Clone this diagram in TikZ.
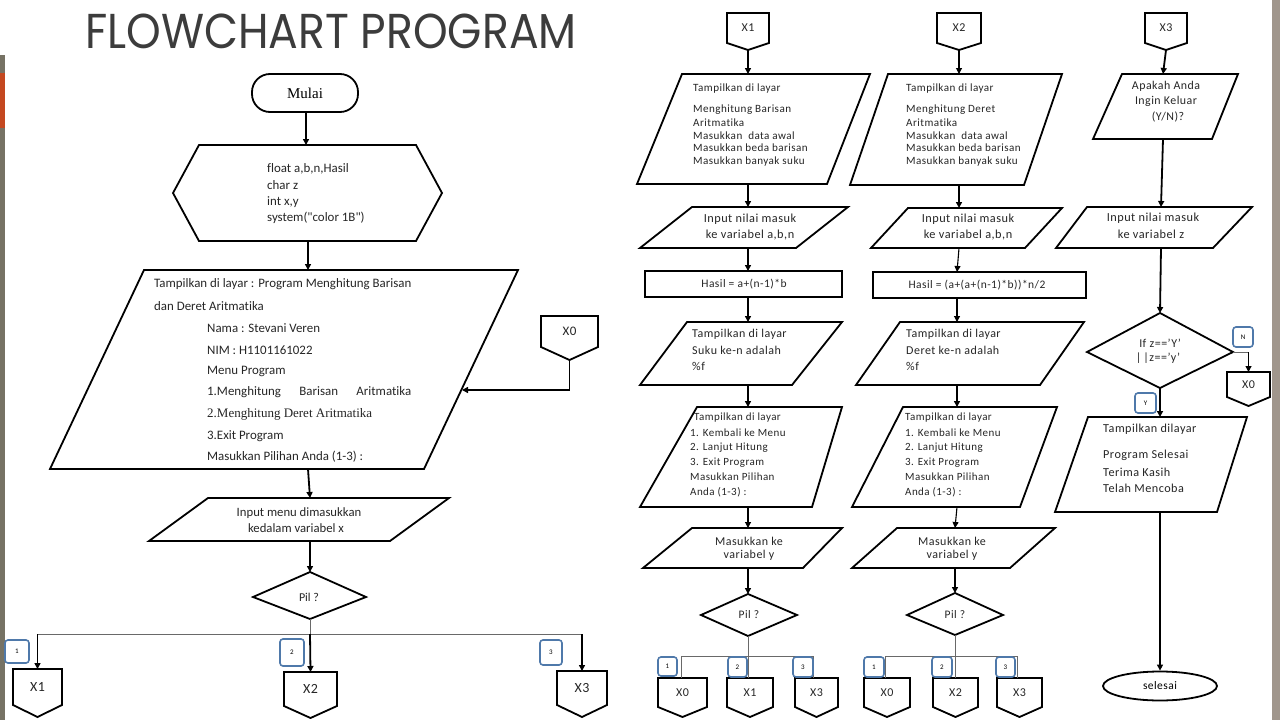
\documentclass[tikz,border=0pt]{standalone}
\usepackage{fontspec}
\setmainfont{Carlito}[Ligatures={TeXOff,CommonOff}]
\newfontfamily\tnr{Liberation Serif}
\newfontfamily\ttl{Poppins}
\newfontfamily\cbw{Carlito}[LetterSpace=4,Ligatures={TeXOff,CommonOff}]
\usetikzlibrary{arrows.meta,shapes.geometric}
\newcommand\fsz[1]{\fontsize{#1}{#1}\selectfont}
\definecolor{lblue}{RGB}{79,121,170}
\definecolor{brgray}{RGB}{105,105,105}
\definecolor{ttlgray}{RGB}{60,60,60}
\definecolor{stripgray}{RGB}{118,114,100}
\definecolor{stripor}{RGB}{196,72,32}
\definecolor{noisegray}{RGB}{160,150,140}
\tikzset{
 shp/.style={draw=black,line width=1.8pt,line join=miter},
 arr/.style={draw=black,line width=1.8pt,-{Triangle[length=6pt,width=6pt]}},
 tarr/.style={draw=black,line width=1.1pt,-{Triangle[length=6pt,width=6pt]}},
 brl/.style={draw=brgray,line width=0.9pt},
 lbl/.style={draw=lblue,line width=1.6pt,rounded corners=3pt,fill=white,inner sep=0pt,font=\fsz{7}},
 txt/.style={inner sep=0pt,text=black!85},
 ltx/.style={txt,anchor=west},
}
\newcommand\offpg[8]{%
 \draw[shp] (#2,#4) -- (#3,#4) -- (#3,#5) -- ({(#2+#3)/2},#6) -- (#2,#5) -- cycle;
 \node[txt,font=\cbw\fsz{#8}] (#1) at ({(#2+#3)/2},{(#4+#5)/2}) {#7};
 \coordinate (#1-t) at ({(#2+#3)/2},#4);
 \coordinate (#1-b) at ({(#2+#3)/2},#6);
}
\newcommand\para[8]{%
 \draw[shp] (#3,#7) -- (#4,#7) -- (#6,#8) -- (#5,#8) -- cycle;
 \coordinate (#1-t) at (#2,#7);
 \coordinate (#1-b) at (#2,#8);
}
\newcommand\dia[7]{%
 \draw[shp] (#2,#3) -- (#7,#4) -- (#2,#5) -- (#6,#4) -- cycle;
 \coordinate (#1-t) at (#2,#3);
 \coordinate (#1-b) at (#2,#5);
 \coordinate (#1-r) at (#7,#4);
}
\newcommand\tln[4]{\node[ltx] (#1) at (#2,#3) {#4};}
\newcommand\tlc[4]{\node[txt] (#1) at (#2,#3) {#4};}
\begin{document}
\begin{tikzpicture}[x=1pt,y=-1pt]
\useasboundingbox (0,0) rectangle (1280,720);
\fill[white] (0,0) rectangle (1280,720);
% frame strips
\fill[stripgray] (0,55) rectangle (5,720);
\fill[stripor] (0,73) rectangle (5,128);
\fill[noisegray] (1272,0) rectangle (1280,720);
% title
\node[anchor=base west,inner sep=0pt,font=\ttl\fsz{49},text=ttlgray] (title) at (85,48) {\scalebox{0.9}[1]{FLOWCHART PROGRAM}};

%================ LEFT COLUMN ================
\node[shp,rounded corners=18pt,minimum width=106pt,minimum height=38pt,inner sep=0pt,font=\tnr\fsz{15}] (mulai) at (305,93) {Mulai};
\draw[shp] (199,145) -- (416,145) -- (442,193) -- (416,241) -- (199,241) -- (173,193) -- cycle;
\coordinate (hex-t) at (306,145);
\coordinate (hex-b) at (308,241);
\begin{scope}[font=\fsz{12.9}]
\tln{h1}{267}{169}{float a,b,n,Hasil}
\tln{h2}{267}{185}{char z}
\tln{h3}{267}{202}{int x,y}
\tln{h4}{267}{218}{system("color 1B")}
\end{scope}
\draw[arr] (mulai.south -| hex-t) -- (hex-t);

\para{main}{308}{144}{518}{50}{424}{270}{469}
\coordinate (main-r) at (462,390);
\draw[arr] (hex-b) -- (main-t);
\begin{scope}[font=\fsz{12.9}]
\tln{m1}{154}{284}{Tampilkan di layar : Program Menghitung Barisan}
\tln{m2}{154}{306}{dan Deret Aritmatika}
\tln{m3}{207}{328}{Nama : Stevani Veren}
\tln{m4}{207}{350}{NIM : H1101161022}
\tln{m5}{207}{371}{Menu Program}
\tln{m6}{207}{392}{\makebox[204pt][s]{1.Menghitung Barisan Aritmatika}}
\node[ltx,font=\tnr\fsz{13}] (m7) at (207,414) {2.Menghitung Deret Aritmatika};
\tln{m8}{207}{436}{3.Exit Program}
\tln{m9}{207}{457}{Masukkan Pilihan Anda (1-3) :}
\end{scope}

\offpg{xz}{541}{598}{316}{347}{360}{X0}{13}
\draw[arr] (xz-b) |- (main-r);

\para{inp}{310}{208}{449}{149}{390}{498}{541}
\draw[arr] (main-b) -- (inp-t);
\begin{scope}[font=\fsz{12.7}]
\tlc{i1}{299}{513}{Input menu dimasukkan}
\tlc{i2}{296}{528}{kedalam variabel x}
\end{scope}

\dia{pil}{310}{572}{597}{619}{253}{366}
\draw[arr] (inp-b) -- (pil-t);
\node[txt,font=\fsz{12}] (pilt) at (309,597) {Pil ?};

\coordinate (br0) at (310,634);
\coordinate (brL) at (37.5,634);
\coordinate (brR) at (582,634);
\draw[brl] (pil-b) -- (br0);
\draw[brl] (brL) -- (brR);

\offpg{xa}{13}{62}{669}{705}{717}{X1}{14}
\offpg{xb}{284}{337}{672}{706}{718}{X2}{14}
\offpg{xc}{557}{607}{671}{705}{717}{X3}{14}
\draw[arr] (brL) -- (xa-t);
\draw[arr] (br0) -- (xb-t);
\draw[arr] (brR) -- (xc-t);
\node[lbl,minimum width=24pt,minimum height=23pt] (l1) at (17,651.5) {1};
\node[lbl,minimum width=24pt,minimum height=27pt] (l2) at (292,652.5) {2};
\node[lbl,minimum width=22pt,minimum height=25pt] (l3) at (551,652.5) {3};

%================ COLUMN 1 ================
\offpg{cax}{727}{769}{13}{43}{50}{X1}{12}
\para{caa}{748}{682}{870}{637}{827}{74}{184}
\draw[arr] (cax-b) -- (caa-t);
\begin{scope}[font=\cbw\fsz{11.1}]
\tln{ca1}{693}{89}{Tampilkan di layar}
\tln{ca2}{693}{110}{Menghitung Barisan}
\tln{ca3}{693}{123}{Aritmatika}
\tln{ca4}{693}{136}{Masukkan\ \ data awal}
\tln{ca5}{693}{148}{Masukkan beda barisan}
\tln{ca6}{693}{162}{Masukkan banyak suku}
\end{scope}
\para{cab}{748}{692}{848}{640}{796}{207}{248}
\draw[arr] (caa-b) -- (cab-t);
\begin{scope}[font=\cbw\fsz{12.3}]
\tlc{cb1}{750}{219}{Input nilai masuk}
\tlc{cb2}{750}{235}{ke variabel a,b,n}
\end{scope}
\draw[shp] (645,271) rectangle (842,297);
\coordinate (cac-t) at (748,271);
\coordinate (cac-b) at (748,297);
\node[txt,font=\cbw\fsz{11.5}] (cc1) at (744,284) {Hasil = a+(n-1)*b};
\draw[arr] (cab-b) -- (cac-t);
\para{cad}{748}{687}{842}{640}{792}{322}{385}
\draw[arr] (cac-b) -- (cad-t);
\begin{scope}[font=\cbw\fsz{12}]
\tln{cd1}{692}{334}{Tampilkan di layar}
\tln{cd2}{692}{350}{Suku ke-n adalah}
\tln{cd3}{692}{366}{\%f}
\end{scope}
\para{cae}{748}{697}{842}{640}{812}{407}{507}
\draw[arr] (cad-b) -- (cae-t);
\begin{scope}[font=\cbw\fsz{11}]
\tln{ce1}{694}{418}{Tampilkan di layar}
\tln{ce2}{690}{433}{1. Kembali ke Menu}
\tln{ce3}{690}{448}{2. Lanjut Hitung}
\tln{ce4}{690}{463}{3. Exit Program}
\tln{ce5}{690}{477}{Masukkan Pilihan}
\tln{ce6}{690}{492}{Anda (1-3) :}
\end{scope}
\para{caf}{748}{692}{842}{643}{803}{528}{568}
\draw[tarr] (cae-b) -- (caf-t);
\begin{scope}[font=\cbw\fsz{12}]
\tlc{cf1}{749}{541}{Masukkan ke}
\tlc{cf2}{749}{555}{variabel y}
\end{scope}
\dia{cag}{748}{594}{615}{636}{701}{797}
\draw[arr] (caf-b) -- (cag-t);
\node[txt,font=\cbw\fsz{11.5}] (cg1) at (749,615) {Pil ?};
\coordinate (cah0) at (748,656);
\coordinate (cahL) at (681,656);
\coordinate (cahR) at (813,656);
\offpg{cap}{658}{707}{678}{707}{717}{X0}{12}
\offpg{caq}{727}{773}{678}{707}{717}{X1}{12}
\offpg{car}{795}{838}{678}{707}{717}{X3}{12}
\draw[brl] (cag-b) -- (cah0);
\draw[brl] (cahL) -- (cahR);
\draw[brl] (cahL) -- (cahL |- cap-t);
\draw[brl] (cah0) -- (cah0 |- caq-t);
\draw[brl] (cahR) -- (cahR |- car-t);
\node[lbl,minimum width=19pt,minimum height=19pt] (cl1) at (667.5,666.5) {1};
\node[lbl,minimum width=19pt,minimum height=20pt] (cl2) at (737.5,667) {2};
\node[lbl,minimum width=20pt,minimum height=20pt] (cl3) at (803,667) {3};

%================ COLUMN 2 ================
\offpg{cbx}{937}{981}{13}{43}{50}{X2}{12}
\para{cba}{959}{888}{1062}{850}{1024}{74}{185}
\draw[tarr] (cbx-b) -- (cba-t);
\begin{scope}[font=\cbw\fsz{11.1}]
\tln{da1}{906}{89}{Tampilkan di layar}
\tln{da2}{906}{110}{Menghitung Deret}
\tln{da3}{906}{123}{Aritmatika}
\tln{da4}{906}{136}{Masukkan\ \ data awal}
\tln{da5}{906}{148}{Masukkan beda barisan}
\tln{da6}{906}{162}{Masukkan banyak suku}
\end{scope}
\para{cbb}{959}{908}{1062}{871}{1025}{208}{248}
\draw[arr] (cba-b) -- (cbb-t);
\begin{scope}[font=\cbw\fsz{12.3}]
\tlc{db1}{968}{219}{Input nilai masuk}
\tlc{db2}{968}{235}{ke variabel a,b,n}
\end{scope}
\draw[shp] (873,272) rectangle (1086,298);
\coordinate (cbc-t) at (957,272);
\coordinate (cbc-b) at (957,298);
\node[txt,font=\cbw\fsz{11.5}] (dc1) at (977,285) {Hasil = (a+(a+(n-1)*b))*n/2};
\draw[tarr] (cbb-b) -- (cbc-t);
\para{cbd}{957}{900}{1084}{856}{1040}{322}{385}
\draw[tarr] (cbc-b) -- (cbd-t);
\begin{scope}[font=\cbw\fsz{12}]
\tln{dd1}{906}{334}{Tampilkan di layar}
\tln{dd2}{906}{350}{Deret ke-n adalah}
\tln{dd3}{906}{366}{\%f}
\end{scope}
\para{cbe}{957}{903}{1057}{852}{1020}{407}{507}
\draw[arr] (cbd-b) -- (cbe-t);
\begin{scope}[font=\cbw\fsz{11}]
\tln{de1}{905}{418}{Tampilkan di layar}
\tln{de2}{905}{433}{1. Kembali ke Menu}
\tln{de3}{905}{448}{2. Lanjut Hitung}
\tln{de4}{905}{463}{3. Exit Program}
\tln{de5}{905}{477}{Masukkan Pilihan}
\tln{de6}{905}{492}{Anda (1-3) :}
\end{scope}
\para{cbf}{955}{897}{1055}{852}{1010}{528}{568}
\draw[tarr] (cbe-b) -- (cbf-t);
\begin{scope}[font=\cbw\fsz{12}]
\tlc{df1}{952}{541}{Masukkan ke}
\tlc{df2}{952}{555}{variabel y}
\end{scope}
\dia{cbg}{955}{593}{615}{635}{907}{1003}
\draw[arr] (cbf-b) -- (cbg-t);
\node[txt,font=\cbw\fsz{11.5}] (dg1) at (955,615) {Pil ?};
\coordinate (cbh0) at (955,656);
\coordinate (cbhL) at (885,656);
\coordinate (cbhR) at (1017,656);
\offpg{cbp}{864}{910}{678}{707}{717}{X0}{12}
\offpg{cbq}{933}{978}{678}{707}{717}{X2}{12}
\offpg{cbr}{997}{1042}{678}{707}{717}{X3}{12}
\draw[brl] (cbg-b) -- (cbh0);
\draw[brl] (cbhL) -- (cbhR);
\draw[brl] (cbhL) -- (cbhL |- cbp-t);
\draw[brl] (cbh0) -- (cbh0 |- cbq-t);
\draw[brl] (cbhR) -- (cbhR |- cbr-t);
\node[lbl,minimum width=20pt,minimum height=20pt] (dl1) at (874,667) {1};
\node[lbl,minimum width=20pt,minimum height=20pt] (dl2) at (942,667) {2};
\node[lbl,minimum width=19pt,minimum height=20pt] (dl3) at (1005.5,667) {3};

%================ RIGHT COLUMN ================
\offpg{ccx}{1145}{1187}{13}{43}{50}{X3}{12}
\para{cca}{1163}{1122}{1238}{1093}{1212}{74}{139}
\draw[arr] (ccx-b) -- (cca-b |- cca-t);
\begin{scope}[font=\cbw\fsz{11.9}]
\tlc{ea1}{1166}{86}{Apakah Anda}
\tlc{ea2}{1166}{101}{Ingin Keluar}
\tlc{ea3}{1168}{117}{(Y/N)?}
\end{scope}
\para{ccb}{1161}{1087}{1252}{1056}{1213}{207}{248}
\draw[arr] (cca-b) -- (ccb-t);
\begin{scope}[font=\cbw\fsz{12.3}]
\tlc{eb1}{1153}{218}{Input nilai masuk}
\tlc{eb2}{1151}{234}{ke variabel z}
\end{scope}
\dia{ccd}{1160}{313}{352}{388}{1087}{1233}
\draw[arr] (ccb-b) -- (ccd-t);
\begin{scope}[font=\cbw\fsz{12}]
\tlc{ed1}{1160}{343}{If z==’Y’}
\tlc{ed2}{1158}{358}{|\,|z==’y’}
\end{scope}
\coordinate (nk) at (1248.5,352);
\offpg{ccn}{1227}{1270}{372}{397}{406}{X0}{12}
\draw[brl] (ccd-r) -- (nk);
\draw[tarr] (nk) -- (ccn-t);
\node[lbl,minimum width=20pt,minimum height=20pt] (en) at (1243,337) {N};
\para{cce}{1160}{1088}{1247}{1055}{1217}{417}{512}
\draw[arr] (ccd-b) -- (cce-t);
\node[lbl,minimum width=21pt,minimum height=20pt] (ey) at (1145.5,403) {Y};
\begin{scope}[font=\cbw\fsz{12.2}]
\tln{ee1}{1103}{429}{Tampilkan dilayar}
\tln{ee2}{1103}{455}{Program Selesai}
\tln{ee3}{1103}{472}{Terima Kasih}
\tln{ee4}{1103}{488}{Telah Mencoba}
\end{scope}
\node[shp,ellipse,minimum width=114pt,minimum height=29pt,inner sep=0pt,font=\cbw\fsz{11.5}] (sel) at (1160,686) {selesai};
\draw[tarr] (cce-b) -- (sel.north);
\end{tikzpicture}
\end{document}
